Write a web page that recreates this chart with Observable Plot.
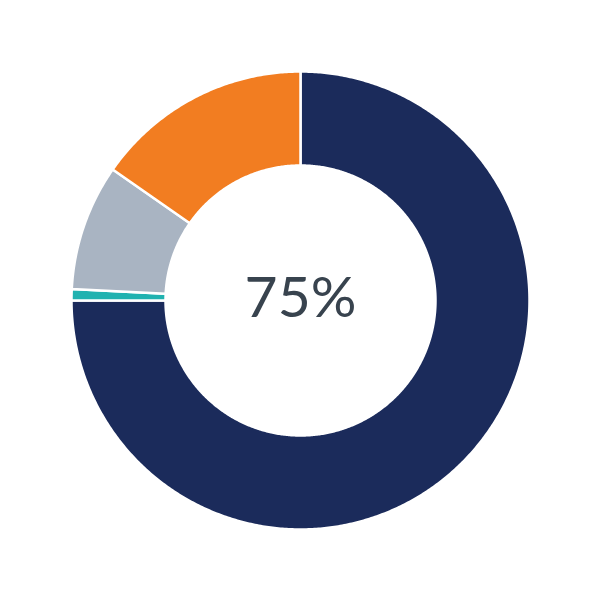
<!DOCTYPE html>
<html>
<head>
<meta charset="utf-8">
<script src="https://cdn.jsdelivr.net/npm/d3@7"></script>
<script src="https://cdn.jsdelivr.net/npm/@observablehq/plot@0.6"></script>
<style>
  html, body { margin: 0; padding: 0; background: #fff; }
  #chart { width: 600px; height: 600px; }
</style>
</head>
<body>
<div id="chart"></div>
<script>
const categories = ["Segment 1", "Segment 2", "Segment 3", "Segment 4"];
const values = [75, 0.8, 8.9, 15.3];
const colors = ["#1b2b5b", "#20b2b0", "#a9b4c2", "#f27d21"];
const centerLabel = "75%";

const outerR = 229, innerR = 135;
const total = d3.sum(values);
const pts = [];
let start = 0;
categories.forEach((c, i) => {
  const a0 = start / total * 2 * Math.PI;
  const a1 = (start + values[i]) / total * 2 * Math.PI;
  start += values[i];
  const n = Math.max(2, Math.ceil((a1 - a0) / (Math.PI / 360)));
  for (let k = 0; k <= n; k++) {
    const a = a0 + (a1 - a0) * k / n;
    pts.push({cat: c, x: outerR * Math.sin(a), y: -outerR * Math.cos(a)});
  }
  for (let k = n; k >= 0; k--) {
    const a = a0 + (a1 - a0) * k / n;
    pts.push({cat: c, x: innerR * Math.sin(a), y: -innerR * Math.cos(a)});
  }
});

const chart = Plot.plot({
  width: 600,
  height: 600,
  margin: 0,
  x: {domain: [-300, 300], range: [0, 600], axis: null},
  y: {domain: [-300, 300], range: [0, 600], axis: null},
  color: {domain: categories, range: colors},
  style: {background: "#fff"},
  marks: [
    Plot.line(pts, {x: "x", y: "y", z: "cat", fill: "cat", stroke: "#fff", strokeWidth: 2.5, curve: "linear-closed"}),
    Plot.text([centerLabel], {x: () => 0, y: () => -2, text: d => d, fontSize: 57, fill: "#38434e", fontFamily: "Lato, 'Open Sans', sans-serif", textAnchor: "middle"})
  ]
});
document.getElementById("chart").appendChild(chart);
</script>
</body>
</html>
